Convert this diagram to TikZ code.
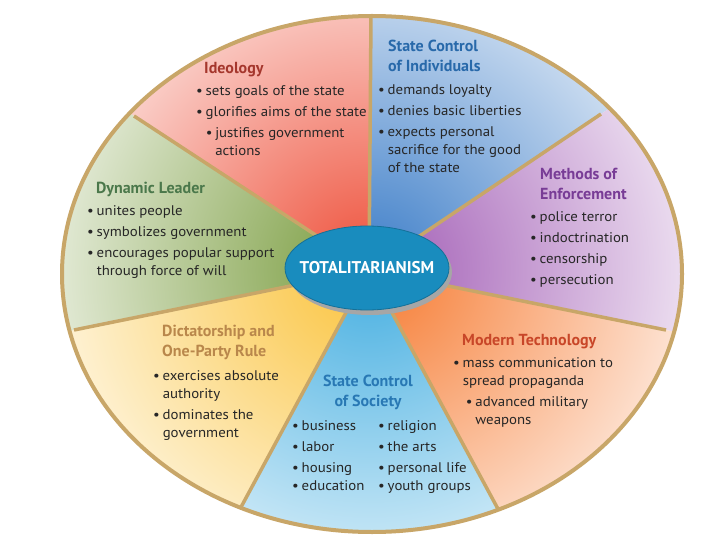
\documentclass[tikz,border=0pt]{standalone}
\usepackage{fontspec}
\setmainfont{PT Sans}
\usetikzlibrary{shapes.geometric,calc}
\definecolor{rim}{RGB}{200,166,104}
\definecolor{cIdeo}{RGB}{238,80,58}
\definecolor{cInd}{RGB}{60,125,200}
\definecolor{cMeth}{RGB}{160,90,180}
\definecolor{cTech}{RGB}{246,122,48}
\definecolor{cSoc}{RGB}{70,175,225}
\definecolor{cDict}{RGB}{250,195,60}
\definecolor{cLead}{RGB}{120,155,60}
\definecolor{tIdeo}{RGB}{165,55,45}
\definecolor{tInd}{RGB}{40,105,170}
\definecolor{tMeth}{RGB}{120,60,150}
\definecolor{tTech}{RGB}{200,70,40}
\definecolor{tSoc}{RGB}{40,120,180}
\definecolor{tDict}{RGB}{185,135,75}
\definecolor{tLead}{RGB}{75,120,75}
\definecolor{hubc}{RGB}{25,140,190}
\newcommand{\bl}{\makebox[9pt][l]{\textbullet}}
\newcommand{\ind}{\hspace*{9pt}}
\tikzset{
 body/.style={anchor=north west,inner sep=0pt,align=left,font=\fontsize{14}{18}\selectfont,text=black!85,xscale=1.06,transform shape},
 ttl/.style={anchor=north west,inner sep=0pt,align=left,font=\bfseries\fontsize{16}{20}\selectfont,xscale=1.0,transform shape},
 spoke/.style={draw=rim,line width=3.5pt}
}
\begin{document}
\begin{tikzpicture}[x=1pt,y=1pt]
\useasboundingbox[fill=white] (0,0) rectangle (720,-540);
\coordinate (c) at (369,-270);
\coordinate (p1) at (371,-16);
\coordinate (p2) at (601,-114);
\coordinate (p3) at (666,-330);
\coordinate (p4) at (498,-509);
\coordinate (p5) at (240,-509);
\coordinate (p6) at (74,-330);
\coordinate (p7) at (134,-116);
\begin{scope}
\clip (372,-274) ellipse [x radius=310,y radius=258];
\foreach \a/\b/\col in {p7/p1/cIdeo,p1/p2/cInd,p2/p3/cMeth,p3/p4/cTech,p4/p5/cSoc,p5/p6/cDict,p6/p7/cLead}{
 \begin{scope}
 \clip (c) -- ($(c)!3!(\a)$) -- ($(c)!3!(\b)$) -- cycle;
 \shade[inner color=\col,outer color=white] (c) circle [radius=400];
 \end{scope}}
\end{scope}
\foreach \p in {p1,p2,p3,p4,p5,p6,p7}{\draw[spoke] (c) -- (\p);}
\draw[rim,line width=4pt] (372,-274) ellipse [x radius=310,y radius=258];
\node[ellipse,fill=black!35,minimum width=164,minimum height=86,inner sep=0pt] (shadow) at (370,-272) {};
\node[ellipse,fill=hubc,draw=hubc!80!black,line width=0.8pt,minimum width=164,minimum height=84,inner sep=0pt] (hub) at (367,-268) {};
\node[text=white,font=\bfseries\fontsize{17}{17}\selectfont] (hubt) at (hub.center) {TOTALITARIANISM};
% Ideology
\node[ttl,text=tIdeo] (t1) at (204,-62) {Ideology};
\node[body] (b1) at (196,-85) {\bl sets goals of the state\\[3pt]\bl glorifies aims of the state\\[3pt]\ind\bl justifies government\\\ind\ind actions};
% Individuals
\node[ttl,text=tInd] (t2) at (388,-40) {State Control\\of Individuals};
\node[body] (b2) at (378,-85) {\bl demands loyalty\\[3pt]\bl denies basic liberties\\[3pt]\bl expects personal\\\ind sacrifice for the good\\\ind of the state};
% Methods
\node[ttl,text=tMeth] (t3) at (540,-168) {Methods of\\Enforcement};
\node[body] (b3) at (530,-211) {\bl police terror\\[3pt]\bl indoctrination\\[3pt]\bl censorship\\[3pt]\bl persecution};
% Leader
\node[ttl,text=tLead] (t4) at (96,-182) {Dynamic Leader};
\node[body] (b4) at (87,-205) {\bl unites people\\[3pt]\bl symbolizes government\\[3pt]\bl encourages popular support\\\ind through force of will};
% Dictatorship
\node[ttl,text=tDict] (t5) at (162,-325) {Dictatorship and\\One-Party Rule};
\node[body] (b5) at (153,-370) {\bl exercises absolute\\\ind authority\\[3pt]\bl dominates the\\\ind government};
% Society
\node[ttl,text=tSoc,align=center,anchor=north] (t6) at (368,-375) {State Control\\of Society};
\node[body] (b6a) at (292,-420) {\bl business\\[3pt]\bl labor\\[3pt]\bl housing\\\bl education};
\node[body] (b6b) at (378,-420) {\bl religion\\[3pt]\bl the arts\\[3pt]\bl personal life\\\bl youth groups};
% Technology
\node[ttl,text=tTech] (t7) at (462,-334) {Modern Technology};
\node[body] (b7) at (453,-357) {\bl mass communication to\\\ind spread propaganda\\[3pt]\ind\hspace*{3pt}\bl advanced military\\\ind\hspace*{3pt}\ind weapons};
\end{tikzpicture}
\end{document}
